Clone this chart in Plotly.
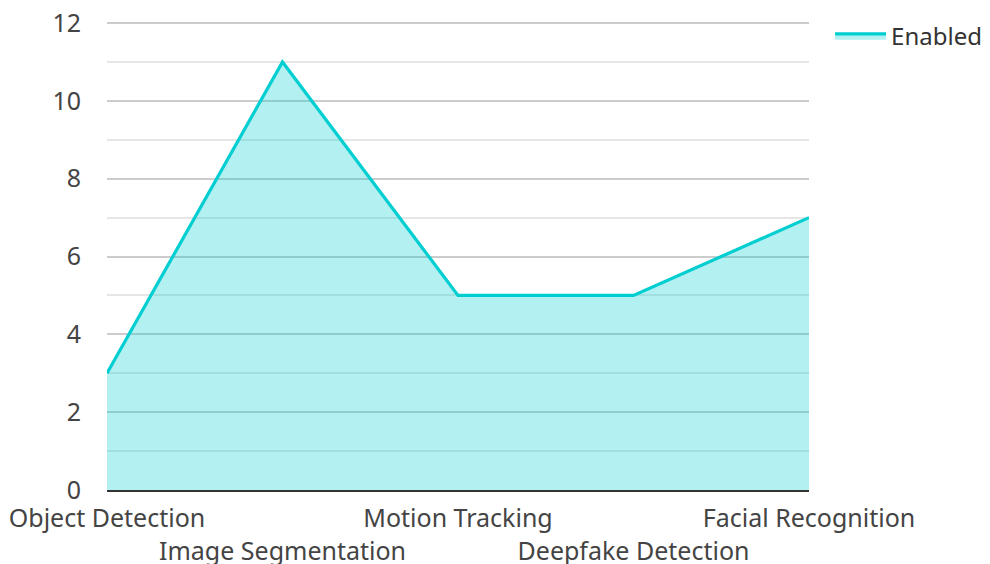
import plotly.graph_objects as go

categories = ["Object Detection", "Image Segmentation", "Motion Tracking", "Deepfake Detection", "Facial Recognition"]
enabled = [3, 11, 5, 5, 7]
y_ticks = [0, 2, 4, 6, 8, 10, 12]

ticktext = [c if i % 2 == 0 else "<br>" + c for i, c in enumerate(categories)]

fig = go.Figure()
fig.add_trace(go.Scatter(
    x=list(range(len(categories))), y=enabled, name="Enabled",
    mode="lines", fill="tozeroy",
    line=dict(color="#00CED1", width=3.2),
    fillcolor="rgba(0,206,209,0.3)",
))

fig.update_layout(
    width=990, height=564,
    margin=dict(l=107, r=181, t=21, b=74, autoexpand=False),
    paper_bgcolor="white", plot_bgcolor="white",
    font=dict(family="Noto Sans", size=25, color="#444"),
    showlegend=True,
    legend=dict(x=1.03, y=1.0156, xanchor="left", yanchor="top", itemwidth=51,
                font=dict(size=24, color="#333"), bgcolor="rgba(0,0,0,0)"),
)
fig.update_xaxes(
    range=[0, len(categories) - 1], automargin=False,
    tickmode="array", tickvals=list(range(len(categories))), ticktext=ticktext,
    showgrid=False, zeroline=False,
    showline=True, linecolor="#333", linewidth=2,
    ticks="outside", ticklen=5, tickcolor="rgba(0,0,0,0)",
    tickangle=0,
)
fig.update_yaxes(
    range=[0, 12.052], tickvals=y_ticks, automargin=False,
    showgrid=True, gridcolor="#cccccc", gridwidth=1.5,
    minor=dict(dtick=1, showgrid=True, gridcolor="#e6e6e6", gridwidth=1.5),
    zeroline=False, showline=False,
    ticks="outside", ticklen=20, tickcolor="rgba(0,0,0,0)",
)

fig.write_html("out.html", config={"displayModeBar": False},
               post_script="document.body.style.margin='0px';")
